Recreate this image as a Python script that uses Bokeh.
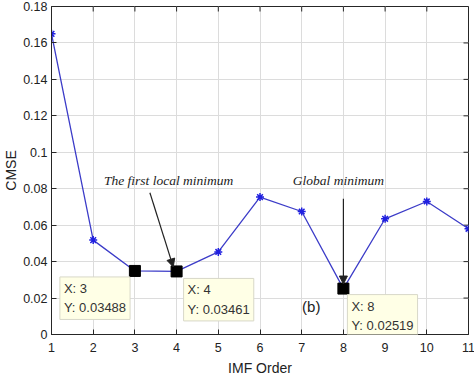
from bokeh.plotting import figure
from bokeh.models import Range1d, Label, Arrow, NormalHead, FixedTicker
from bokeh.embed import file_html
from bokeh.resources import INLINE

imf_order = [1, 2, 3, 4, 5, 6, 7, 8, 9, 10, 11]
cmse = [0.165, 0.0518, 0.03488, 0.03461, 0.0453, 0.0754, 0.0675, 0.02519, 0.0635, 0.0730, 0.0580]
tip_idx = [2, 3, 7]
tip_text = ["X: 3\nY: 0.03488", "X: 4\nY: 0.03461", "X: 8\nY: 0.02519"]
x_ticks = list(range(1, 12))
y_ticks = [0, 0.02, 0.04, 0.06, 0.08, 0.1, 0.12, 0.14, 0.16, 0.18]
y_tick_labels = {0: "0", 0.02: "0.02", 0.04: "0.04", 0.06: "0.06", 0.08: "0.08",
                 0.1: "0.1", 0.12: "0.12", 0.14: "0.14", 0.16: "0.16", 0.18: "0.18"}

FONT = "Liberation Sans"
AX = "#262626"
X0, X1, Y0, Y1 = 1, 11, 0, 0.18
FW, FH = 417, 328

p = figure(frame_width=FW, frame_height=FH, output_backend="svg", toolbar_location=None,
           x_range=Range1d(X0, X1), y_range=Range1d(Y0, Y1),
           min_border_left=0, min_border_right=7, min_border_top=6, min_border_bottom=0)
p.outline_line_color = AX
p.outline_line_width = 1
p.background_fill_color = "white"
p.border_fill_color = "white"

for ax in (p.xaxis[0], p.yaxis[0]):
    ax.major_tick_in = 5
    ax.major_tick_out = 0
    ax.minor_tick_line_color = None
    ax.axis_line_color = AX
    ax.major_tick_line_color = AX
    ax.major_label_text_font = FONT
    ax.major_label_text_font_size = "12.5px"
    ax.major_label_text_color = "#222222"
    ax.axis_label_text_font = FONT
    ax.axis_label_text_font_size = "14px"
    ax.axis_label_text_font_style = "normal"
    ax.axis_label_text_color = "#222222"

p.xaxis.ticker = FixedTicker(ticks=x_ticks)
p.yaxis.ticker = FixedTicker(ticks=y_ticks)
p.yaxis.major_label_overrides = y_tick_labels
p.xaxis.axis_label = "IMF Order"
p.yaxis.axis_label = "CMSE"
p.xaxis.axis_label_standoff = 5
p.yaxis.axis_label_standoff = 1
p.xaxis.major_label_standoff = 8
p.yaxis.major_label_standoff = 4

p.xgrid.ticker = FixedTicker(ticks=x_ticks)
p.ygrid.ticker = FixedTicker(ticks=y_ticks)
p.grid.grid_line_color = "#dcdcdc"
p.grid.grid_line_width = 1

# top and right inward ticks (box on)
tick_dy = 5 / FH * (Y1 - Y0)
tick_dx = 5 / FW * (X1 - X0)
p.segment(x0=x_ticks, y0=[Y1] * len(x_ticks), x1=x_ticks, y1=[Y1 - tick_dy] * len(x_ticks),
          line_color=AX, line_width=1)
p.segment(x0=[X1] * len(y_ticks), y0=y_ticks, x1=[X1 - tick_dx] * len(y_ticks), y1=y_ticks,
          line_color=AX, line_width=1)

line_color = "#3c3cc8"
p.line(imf_order, cmse, line_color=line_color, line_width=1.3)
p.scatter(imf_order, cmse, marker="asterisk", size=8, line_color="#2020e0", line_width=1.5)

tx = [imf_order[i] for i in tip_idx]
ty = [cmse[i] for i in tip_idx]
p.scatter(tx, ty, marker="square", size=11, fill_color="black", line_color="black")

offsets = [(-75, -6), (7, -7), (4, -6)]
for (x, y), txt, (dx, dy) in zip(zip(tx, ty), tip_text, offsets):
    p.add_layout(Label(x=x, y=y, x_offset=dx, y_offset=dy, text=txt, anchor="top_left",
                       text_font=FONT, text_font_size="13px", text_color="#333333",
                       text_line_height=1.3,
                       background_fill_color="#ffffe6", border_line_color="#d8d8c8",
                       padding=4))

# annotation texts and arrows
p.add_layout(Label(x=3.81, y=0.0844, text="The first local minimum", text_align="center",
                   text_baseline="middle", text_font="Liberation Serif",
                   text_font_size="13.5px", text_font_style="italic", text_color="#222222"))
p.add_layout(Label(x=7.88, y=0.0844, text="Global minimum", text_align="center",
                   text_baseline="middle", text_font="Liberation Serif",
                   text_font_size="13.5px", text_font_style="italic", text_color="#222222"))

p.add_layout(Arrow(x_start=3.36, y_start=0.0778, x_end=imf_order[3] - 0.08, y_end=cmse[3] + 0.0025,
                   line_color="#222222", line_width=1.2,
                   end=NormalHead(size=8, fill_color="#222222", line_color="#222222")))
p.add_layout(Arrow(x_start=imf_order[7], y_start=0.0745, x_end=imf_order[7], y_end=cmse[7] + 0.0025,
                   line_color="#222222", line_width=1.2,
                   end=NormalHead(size=8, fill_color="#222222", line_color="#222222")))

p.add_layout(Label(x=7.23, y=0.0153, text="(b)", text_font=FONT, text_font_size="15px",
                   text_color="#222222", text_align="center", text_baseline="middle"))

open("out.html", "w").write(file_html(p, INLINE))
